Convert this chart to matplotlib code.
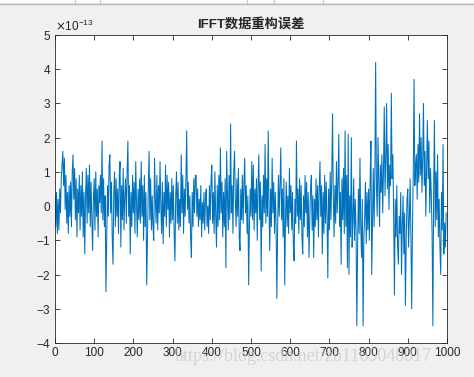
import numpy as np
import matplotlib
matplotlib.use("Agg")
import matplotlib.pyplot as plt
from matplotlib.ticker import ScalarFormatter
from matplotlib.patches import Rectangle
from matplotlib.lines import Line2D

plt.rcParams['font.family'] = ['Liberation Sans', 'Noto Sans CJK SC', 'DejaVu Sans']
plt.rcParams['axes.unicode_minus'] = False

# reconstruction error in units of 0.1e-13, sample every 2nd index
err_tenths = [
    3, -6, 4, -8, 2, -7, 5, -2, 8, 12,
    16, 6, 14, -1, 9, -5, 4, -8, 6, -3,
    7, -6, 10, 15, 2, 11, -4, 8, -9, 5,
    -2, 9, -7, 6, -3, 10, -9, 4, -14, 3,
    11, -5, 9, -2, 12, -6, 7, -4, -13, 2,
    8, -7, 10, -3, 5, -9, 6, 1, 9, -2,
    19, -4, 8, -6, 3, -25, -10, 6, -3, 12,
    15, -2, 7, -9, -17, 4, 10, -6, 8, -3,
    5, -8, 9, 13, -12, 6, -4, 11, -7, 3,
    8, -5, 10, 19, -3, 6, -14, 4, -6, 9,
    -2, 7, -8, 13, 1, -9, 5, -4, 8, -5,
    13, -3, 6, -10, 9, -6, 4, -23, -8, 5,
    16, -4, 8, -7, 3, -6, -10, 14, 2, -5,
    9, -7, 6, -2, 13, 0, -8, 7, -11, 4,
    -3, 12, -6, 9, -1, 7, -9, 4, -5, 8,
    -4, 6, -8, -16, 3, 10, -5, 7, -7, 2,
    -6, 15, -2, 9, -8, 5, -3, 8, 22, -1,
    7, -5, 3, -9, -15, 4, -6, 8, -2, 9,
    9, -3, 5, -6, 2, -4, 6, -9, 1, -5,
    4, -7, 3, 5, -6, 0, -8, 6, -4, 7,
    12, -5, 4, -8, 10, -3, -12, 6, -6, 9,
    -4, 17, -2, 7, -9, 4, -6, 8, -18, 16,
    3, -7, 9, -4, 24, -2, 6, -8, 10, 16,
    2, -6, 8, -3, 11, -9, -13, 5, -4, 9,
    -5, 7, 14, -2, 6, -8, 3, -23, -6, 5,
    -3, 13, -4, 12, -7, 5, -2, 8, -10, 6,
    15, -4, 7, -19, 3, -6, 9, -2, 18, -5,
    8, -3, 22, -1, -13, 5, -6, 14, -2, 7,
    -8, 4, -5, -27, -6, 9, -3, 6, 17, -4,
    5, -9, 8, -23, -4, 7, -6, 3, -8, 11,
    -2, 6, -7, 4, -11, -16, 2, -5, 19, -3,
    5, -8, 8, -4, 6, -9, -14, 3, -6, 9,
    -2, 7, -9, 4, -15, -4, 5, 9, -7, 3,
    -15, 2, -6, 8, -4, 6, -9, 5, 13, -3,
    6, -14, 4, -8, 9, -5, 7, -3, -21, 5,
    -7, 10, -4, 8, 27, 3, -9, 6, -5, 13,
    -2, 7, 21, -6, 4, -17, 8, -4, 11, -8,
    22, -6, 9, -18, 21, -20, 3, -9, 20, -12,
    -4, 8, -10, 2, -7, -35, -12, 5, -8, 14,
    -6, -15, 2, -35, -9, -3, 7, -11, 4, -7,
    5, -10, 8, 19, -20, -4, 11, -6, 9, 42,
    6, -3, 20, 8, -6, 12, 4, 15, -2, 10,
    29, 3, 14, 30, 5, 18, -1, 12, 6, 33,
    8, 15, -4, -26, 2, -9, 6, -12, -17, -3,
    -8, 4, -20, -6, 3, -14, -2, -29, -10, 2,
    5, -12, -4, 8, -9, -30, -6, 10, 37, 6,
    12, 15, 2, 18, 7, 27, 9, 20, 4, 14,
    30, 6, 16, -3, 12, 25, 8, 19, -2, 11,
    3, -8, -35, 5, 25, -6, 10, -4, 15, -9,
    2, -12, -20, 4, -7, 18, -14, -5, -12, -2,
]
sample_index = np.arange(0, 2 * len(err_tenths), 2)
title = 'IFFT数据重构误差'
x_ticks = list(range(0, 1001, 100))
y_ticks = list(range(-4, 6))

err = np.array(err_tenths) / 10.0 * 1e-13

W, H = 474, 377
fig = plt.figure(figsize=(W / 100, H / 100), dpi=100)
fig.patch.set_facecolor('#f0f0f0')

# window toolbar strip at the very top
fig.add_artist(Rectangle((0, 1 - 3 / H), 1, 3 / H, transform=fig.transFigure,
                         facecolor='white', edgecolor='none'))
fig.add_artist(Line2D([0, 1], [1 - 3.5 / H] * 2, transform=fig.transFigure,
                      color='#b8b8b8', lw=1))
for px in [75, 100, 247, 274, 323]:
    fig.add_artist(Line2D([px / W] * 2, [1 - 3 / H, 1], transform=fig.transFigure,
                          color='#c8c8c8', lw=0.8))

ax = fig.add_axes([0.116, 0.0902, 0.827, 0.817])
ax.set_facecolor('white')

ax.plot(sample_index, err, color='#0072BD', lw=0.75)

ax.set_xlim(0, 1000)
ax.set_ylim(-4e-13, 5e-13)
ax.set_xticks(x_ticks)
ax.set_yticks([v * 1e-13 for v in y_ticks])
fmt = ScalarFormatter(useMathText=True)
fmt.set_powerlimits((0, 0))
ax.yaxis.set_major_formatter(fmt)

ax.tick_params(direction='in', top=True, right=True, length=3.5, width=0.6,
               labelsize=8.5, colors='#262626', pad=3)
for s in ax.spines.values():
    s.set_color('#262626')
    s.set_linewidth(0.6)
ax.yaxis.get_offset_text().set_fontsize(8.5)
ax.yaxis.get_offset_text().set_color('#262626')

ax.set_title(title, fontsize=9.5, fontweight='bold', color='#262626', pad=5)

fig.text(0.64, 0.055, 'https://blog.csdn.net/zb1165048017', fontsize=13,
         family='Liberation Serif', color='#c8c8c8', alpha=0.7,
         ha='center', va='center')

fig.savefig('out.png', dpi=100, facecolor=fig.get_facecolor())
